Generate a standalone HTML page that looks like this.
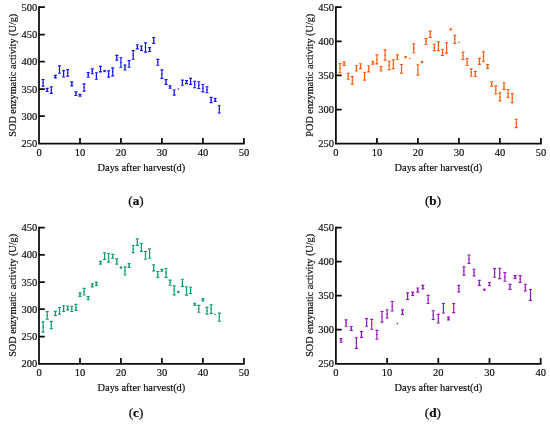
<!DOCTYPE html>
<html><head><meta charset="utf-8"><title>Enzymatic activity</title>
<style>
html,body{margin:0;padding:0;background:#fff;}
svg{display:block;}
text{font-family:"Liberation Serif",serif;fill:#0a0a0a;stroke:#0a0a0a;stroke-width:0.16px;}
.t{font-size:10.5px;}
.l{font-size:10.4px;}
.yl{font-size:10.22px;}
.c{font-size:13.2px;fill:#0a0a0a;stroke:#0a0a0a;stroke-width:0.22px;}
.ax{stroke:#0c0c0c;stroke-width:1.75;fill:none;stroke-linecap:butt;}
.e{stroke-width:1.15;fill:none;}
</style></head><body>
<svg width="550" height="424" viewBox="0 0 550 424">
<rect width="550" height="424" fill="#fff"/>

<g>
<path class="ax" d="M39.0 6.33V143.7H244.72"/>
<text class="t" x="37.2" y="10.9" text-anchor="end">500</text>
<text class="t" x="37.2" y="38.2" text-anchor="end">450</text>
<text class="t" x="37.2" y="65.4" text-anchor="end">400</text>
<text class="t" x="37.2" y="92.7" text-anchor="end">350</text>
<text class="t" x="37.2" y="119.9" text-anchor="end">300</text>
<text class="t" x="37.2" y="147.1" text-anchor="end">250</text>
<text class="t" x="39.0" y="155.7" text-anchor="middle">0</text>
<text class="t" x="80.0" y="155.7" text-anchor="middle">10</text>
<text class="t" x="120.9" y="155.7" text-anchor="middle">20</text>
<text class="t" x="161.9" y="155.7" text-anchor="middle">30</text>
<text class="t" x="202.9" y="155.7" text-anchor="middle">40</text>
<text class="t" x="243.9" y="155.7" text-anchor="middle">50</text>
<path class="ax" d="M39.0 7.2h5.8M39.0 34.5h5.8M39.0 61.7h5.8M39.0 89.0h5.8M39.0 116.2h5.8M80.0 143.7v-5.8M120.9 143.7v-5.8M161.9 143.7v-5.8M202.9 143.7v-5.8M243.9 143.7v-5.8"/>
<text class="l" x="141.4" y="171.4" text-anchor="middle">Days after harvest(d)</text>
<text class="yl" transform="translate(15.5 75.2) rotate(-90)" text-anchor="middle">SOD enzymatic activity (U/g)</text>
<text class="c" x="136.0" y="204.8" text-anchor="middle">(<tspan font-weight="bold">a</tspan>)</text>
<path class="e" stroke="#1212f6" d="M43.1 79.3V86.4M41.6 79.6h3M41.6 86.1h3M47.2 88.0V91.8M45.7 88.3h3M45.7 91.5h3M51.3 86.6V93.7M49.8 86.9h3M49.8 93.4h3M55.4 75.1V78.1M53.9 75.4h3M53.9 77.8h3M59.5 65.5V73.5M58.0 65.8h3M58.0 73.2h3M63.6 70.3V77.3M62.1 70.6h3M62.1 77.0h3M67.7 69.3V76.4M66.2 69.6h3M66.2 76.1h3M71.8 81.6V86.2M70.3 81.9h3M70.3 85.9h3M75.9 91.6V95.8M74.4 91.9h3M74.4 95.5h3M80.0 94.1V96.5M78.5 94.4h3M78.5 96.2h3M84.1 83.5V91.4M82.6 83.8h3M82.6 91.1h3M88.2 72.3V77.5M86.7 72.6h3M86.7 77.2h3M92.3 68.5V74.0M90.8 68.8h3M90.8 73.7h3M96.4 72.4V79.5M94.9 72.7h3M94.9 79.2h3M100.5 66.1V72.1M99.0 66.4h3M99.0 71.8h3M108.6 70.5V77.4M107.1 70.8h3M107.1 77.1h3M112.7 67.5V76.2M111.2 67.8h3M111.2 75.9h3M116.8 55.1V60.4M115.3 55.4h3M115.3 60.1h3M120.9 57.4V67.5M119.4 57.7h3M119.4 67.2h3M125.0 64.8V70.3M123.5 65.1h3M123.5 70.0h3M129.1 60.3V67.5M127.6 60.6h3M127.6 67.2h3M133.2 50.3V59.5M131.7 50.6h3M131.7 59.2h3M137.3 44.4V49.2M135.8 44.7h3M135.8 48.9h3M141.4 45.7V50.6M139.9 46.0h3M139.9 50.3h3M145.5 42.5V52.4M144.0 42.8h3M144.0 52.1h3M149.6 47.3V51.8M148.1 47.6h3M148.1 51.5h3M153.7 37.3V43.6M152.2 37.6h3M152.2 43.3h3M157.8 59.0V65.5M156.3 59.3h3M156.3 65.2h3M161.9 69.5V78.6M160.4 69.8h3M160.4 78.3h3M166.0 79.3V84.7M164.5 79.6h3M164.5 84.4h3M170.1 85.5V88.5M168.6 85.8h3M168.6 88.2h3M174.2 89.7V95.4M172.7 90.0h3M172.7 95.1h3M182.4 79.8V85.5M180.9 80.1h3M180.9 85.2h3M186.5 80.3V83.9M185.0 80.6h3M185.0 83.6h3M190.6 78.1V84.7M189.1 78.4h3M189.1 84.4h3M194.7 80.9V88.0M193.2 81.2h3M193.2 87.7h3M198.8 81.4V88.8M197.3 81.7h3M197.3 88.5h3M202.9 84.2V92.1M201.4 84.5h3M201.4 91.8h3M207.0 86.4V93.0M205.5 86.7h3M205.5 92.7h3M211.1 97.1V102.9M209.6 97.4h3M209.6 102.6h3M215.2 97.9V101.7M213.7 98.2h3M213.7 101.4h3M219.3 105.4V113.3M217.8 105.7h3M217.8 113.0h3"/>
<g fill="#1212f6"><circle cx="43.1" cy="82.8" r="0.75"/><circle cx="47.2" cy="89.9" r="0.75"/><circle cx="51.3" cy="90.2" r="0.75"/><circle cx="55.4" cy="76.6" r="0.75"/><circle cx="59.5" cy="69.5" r="0.75"/><circle cx="63.6" cy="73.8" r="0.75"/><circle cx="67.7" cy="72.8" r="0.75"/><circle cx="71.8" cy="83.9" r="0.75"/><circle cx="75.9" cy="93.7" r="0.75"/><circle cx="80.0" cy="95.3" r="0.75"/><circle cx="84.1" cy="87.5" r="0.75"/><circle cx="88.2" cy="74.9" r="0.75"/><circle cx="92.3" cy="71.2" r="0.75"/><circle cx="96.4" cy="76.0" r="0.75"/><circle cx="100.5" cy="69.1" r="0.75"/><rect x="103.40" y="69.85" width="2.3" height="2.3"/><circle cx="108.6" cy="74.0" r="0.75"/><circle cx="112.7" cy="71.8" r="0.75"/><circle cx="116.8" cy="57.8" r="0.75"/><circle cx="120.9" cy="62.5" r="0.75"/><circle cx="125.0" cy="67.5" r="0.75"/><circle cx="129.1" cy="63.9" r="0.75"/><circle cx="133.2" cy="54.9" r="0.75"/><circle cx="137.3" cy="46.8" r="0.75"/><circle cx="141.4" cy="48.2" r="0.75"/><circle cx="145.5" cy="47.5" r="0.75"/><circle cx="149.6" cy="49.5" r="0.75"/><circle cx="153.7" cy="40.5" r="0.75"/><circle cx="157.8" cy="62.2" r="0.75"/><circle cx="161.9" cy="74.0" r="0.75"/><circle cx="166.0" cy="82.0" r="0.75"/><circle cx="170.1" cy="87.0" r="0.75"/><circle cx="174.2" cy="92.6" r="0.75"/><circle cx="178.3" cy="89.0" r="0.8"/><circle cx="182.4" cy="82.7" r="0.75"/><circle cx="186.5" cy="82.1" r="0.75"/><circle cx="190.6" cy="81.4" r="0.75"/><circle cx="194.7" cy="84.5" r="0.75"/><circle cx="198.8" cy="85.1" r="0.75"/><circle cx="202.9" cy="88.2" r="0.75"/><circle cx="207.0" cy="89.7" r="0.75"/><circle cx="211.1" cy="100.0" r="0.75"/><circle cx="215.2" cy="99.8" r="0.75"/><circle cx="219.3" cy="109.3" r="0.75"/></g>
</g>
<g>
<path class="ax" d="M335.9 6.33V143.7H541.77"/>
<text class="t" x="334.1" y="10.9" text-anchor="end">450</text>
<text class="t" x="334.1" y="45.0" text-anchor="end">400</text>
<text class="t" x="334.1" y="79.1" text-anchor="end">350</text>
<text class="t" x="334.1" y="113.2" text-anchor="end">300</text>
<text class="t" x="334.1" y="147.3" text-anchor="end">250</text>
<text class="t" x="335.9" y="155.7" text-anchor="middle">0</text>
<text class="t" x="376.9" y="155.7" text-anchor="middle">10</text>
<text class="t" x="417.9" y="155.7" text-anchor="middle">20</text>
<text class="t" x="458.9" y="155.7" text-anchor="middle">30</text>
<text class="t" x="499.9" y="155.7" text-anchor="middle">40</text>
<text class="t" x="540.9" y="155.7" text-anchor="middle">50</text>
<path class="ax" d="M335.9 7.2h5.8M335.9 41.3h5.8M335.9 75.4h5.8M335.9 109.5h5.8M376.9 143.7v-5.8M417.9 143.7v-5.8M458.9 143.7v-5.8M499.9 143.7v-5.8M540.9 143.7v-5.8"/>
<text class="l" x="438.4" y="171.4" text-anchor="middle">Days after harvest(d)</text>
<text class="yl" transform="translate(313.3 75.2) rotate(-90)" text-anchor="middle">POD enzymatic activity (U/g)</text>
<text class="c" x="433.0" y="204.8" text-anchor="middle">(<tspan font-weight="bold">b</tspan>)</text>
<path class="e" stroke="#fa5a0c" d="M340.0 63.3V73.0M338.5 63.6h3M338.5 72.7h3M344.1 61.6V65.7M342.6 61.9h3M342.6 65.4h3M348.2 73.0V79.5M346.7 73.3h3M346.7 79.2h3M352.3 76.3V84.4M350.8 76.6h3M350.8 84.1h3M356.4 65.4V71.3M354.9 65.7h3M354.9 71.0h3M360.5 63.4V68.9M359.0 63.7h3M359.0 68.6h3M364.6 72.2V80.4M363.1 72.5h3M363.1 80.1h3M368.7 65.4V72.2M367.2 65.7h3M367.2 71.9h3M372.8 60.9V64.4M371.3 61.2h3M371.3 64.1h3M376.9 54.5V64.2M375.4 54.8h3M375.4 63.9h3M381.0 66.2V71.3M379.5 66.5h3M379.5 71.0h3M385.1 49.5V60.4M383.6 49.8h3M383.6 60.1h3M389.2 60.9V69.9M387.7 61.2h3M387.7 69.6h3M393.3 59.5V68.9M391.8 59.8h3M391.8 68.6h3M397.4 54.6V59.5M395.9 54.9h3M395.9 59.2h3M401.5 64.2V73.4M400.0 64.5h3M400.0 73.1h3M413.8 43.6V53.0M412.3 43.9h3M412.3 52.7h3M417.9 64.4V75.4M416.4 64.7h3M416.4 75.1h3M426.1 38.3V44.8M424.6 38.6h3M424.6 44.5h3M430.2 30.8V37.7M428.7 31.1h3M428.7 37.4h3M434.3 43.9V51.0M432.8 44.2h3M432.8 50.7h3M438.4 41.5V50.9M436.9 41.8h3M436.9 50.6h3M442.5 49.2V55.6M441.0 49.5h3M441.0 55.3h3M446.6 42.6V53.4M445.1 42.9h3M445.1 53.1h3M454.8 35.0V43.6M453.3 35.3h3M453.3 43.3h3M463.0 51.8V59.8M461.5 52.1h3M461.5 59.5h3M467.1 58.3V65.8M465.6 58.6h3M465.6 65.5h3M471.2 68.6V76.5M469.7 68.9h3M469.7 76.2h3M475.3 71.0V76.8M473.8 71.3h3M473.8 76.5h3M479.4 58.0V64.7M477.9 58.3h3M477.9 64.4h3M483.5 51.5V61.5M482.0 51.8h3M482.0 61.2h3M487.6 64.3V68.6M486.1 64.6h3M486.1 68.3h3M491.7 81.4V86.4M490.2 81.7h3M490.2 86.1h3M495.8 85.5V94.3M494.3 85.8h3M494.3 94.0h3M499.9 92.6V101.2M498.4 92.9h3M498.4 100.9h3M504.0 82.6V89.7M502.5 82.9h3M502.5 89.4h3M508.1 89.2V97.6M506.6 89.5h3M506.6 97.3h3M512.2 93.3V102.9M510.7 93.6h3M510.7 102.6h3M516.3 118.9V127.9M514.8 119.2h3M514.8 127.6h3"/>
<g fill="#fa5a0c"><circle cx="340.0" cy="68.2" r="0.75"/><circle cx="344.1" cy="63.7" r="0.75"/><circle cx="348.2" cy="76.2" r="0.75"/><circle cx="352.3" cy="80.3" r="0.75"/><circle cx="356.4" cy="68.3" r="0.75"/><circle cx="360.5" cy="66.2" r="0.75"/><circle cx="364.6" cy="76.3" r="0.75"/><circle cx="368.7" cy="68.8" r="0.75"/><circle cx="372.8" cy="62.7" r="0.75"/><circle cx="376.9" cy="59.4" r="0.75"/><circle cx="381.0" cy="68.8" r="0.75"/><circle cx="385.1" cy="55.0" r="0.75"/><circle cx="389.2" cy="65.4" r="0.75"/><circle cx="393.3" cy="64.2" r="0.75"/><circle cx="397.4" cy="57.0" r="0.75"/><circle cx="401.5" cy="68.8" r="0.75"/><rect x="404.45" y="56.00" width="2.3" height="2.3"/><circle cx="409.7" cy="58.6" r="0.8"/><circle cx="413.8" cy="48.3" r="0.75"/><circle cx="417.9" cy="69.9" r="0.75"/><rect x="420.85" y="60.95" width="2.3" height="2.3"/><circle cx="426.1" cy="41.5" r="0.75"/><circle cx="430.2" cy="34.2" r="0.75"/><circle cx="434.3" cy="47.5" r="0.75"/><circle cx="438.4" cy="46.2" r="0.75"/><circle cx="442.5" cy="52.4" r="0.75"/><circle cx="446.6" cy="48.0" r="0.75"/><rect x="449.55" y="28.20" width="2.3" height="2.3"/><circle cx="454.8" cy="39.3" r="0.75"/><circle cx="458.9" cy="42.4" r="0.8"/><circle cx="463.0" cy="55.8" r="0.75"/><circle cx="467.1" cy="62.0" r="0.75"/><circle cx="471.2" cy="72.5" r="0.75"/><circle cx="475.3" cy="73.9" r="0.75"/><circle cx="479.4" cy="61.4" r="0.75"/><circle cx="483.5" cy="56.5" r="0.75"/><circle cx="487.6" cy="66.4" r="0.75"/><circle cx="491.7" cy="83.9" r="0.75"/><circle cx="495.8" cy="89.9" r="0.75"/><circle cx="499.9" cy="96.9" r="0.75"/><circle cx="504.0" cy="86.2" r="0.75"/><circle cx="508.1" cy="93.4" r="0.75"/><circle cx="512.2" cy="98.1" r="0.75"/><circle cx="516.3" cy="123.4" r="0.75"/></g>
</g>
<g>
<path class="ax" d="M39.0 226.63V363.8H244.72"/>
<text class="t" x="37.2" y="231.2" text-anchor="end">450</text>
<text class="t" x="37.2" y="258.4" text-anchor="end">400</text>
<text class="t" x="37.2" y="285.7" text-anchor="end">350</text>
<text class="t" x="37.2" y="312.9" text-anchor="end">300</text>
<text class="t" x="37.2" y="340.2" text-anchor="end">250</text>
<text class="t" x="37.2" y="367.4" text-anchor="end">200</text>
<text class="t" x="39.0" y="375.8" text-anchor="middle">0</text>
<text class="t" x="80.0" y="375.8" text-anchor="middle">10</text>
<text class="t" x="120.9" y="375.8" text-anchor="middle">20</text>
<text class="t" x="161.9" y="375.8" text-anchor="middle">30</text>
<text class="t" x="202.9" y="375.8" text-anchor="middle">40</text>
<text class="t" x="243.9" y="375.8" text-anchor="middle">50</text>
<path class="ax" d="M39.0 227.5h5.8M39.0 254.8h5.8M39.0 282.0h5.8M39.0 309.2h5.8M39.0 336.5h5.8M80.0 363.8v-5.8M120.9 363.8v-5.8M161.9 363.8v-5.8M202.9 363.8v-5.8M243.9 363.8v-5.8"/>
<text class="l" x="141.4" y="391.4" text-anchor="middle">Days after harvest(d)</text>
<text class="yl" transform="translate(15.5 295.4) rotate(-90)" text-anchor="middle">SOD enzymatic activity (U/g)</text>
<text class="c" x="136.0" y="417.2" text-anchor="middle">(<tspan font-weight="bold">c</tspan>)</text>
<path class="e" stroke="#0c9c66" d="M43.1 321.5V332.4M41.6 321.8h3M41.6 332.1h3M47.2 311.3V319.4M45.7 311.6h3M45.7 319.1h3M51.3 321.3V328.9M49.8 321.6h3M49.8 328.6h3M55.4 311.0V315.7M53.9 311.3h3M53.9 315.4h3M59.5 307.2V314.5M58.0 307.5h3M58.0 314.2h3M63.6 305.4V311.6M62.1 305.7h3M62.1 311.3h3M67.7 305.7V310.1M66.2 306.0h3M66.2 309.8h3M71.8 305.9V311.8M70.3 306.2h3M70.3 311.5h3M75.9 304.1V310.6M74.4 304.4h3M74.4 310.3h3M80.0 292.5V296.6M78.5 292.8h3M78.5 296.3h3M84.1 288.0V295.3M82.6 288.3h3M82.6 295.0h3M88.2 296.2V300.0M86.7 296.5h3M86.7 299.7h3M92.3 283.6V287.1M90.8 283.9h3M90.8 286.8h3M96.4 281.8V285.6M94.9 282.1h3M94.9 285.3h3M100.5 260.9V264.4M99.0 261.2h3M99.0 264.1h3M104.6 252.6V259.7M103.1 252.9h3M103.1 259.4h3M108.6 253.2V262.4M107.1 253.5h3M107.1 262.1h3M112.7 254.1V258.5M111.2 254.4h3M111.2 258.2h3M116.8 258.5V264.4M115.3 258.8h3M115.3 264.1h3M125.0 266.6V275.3M123.5 266.9h3M123.5 275.0h3M129.1 263.3V267.6M127.6 263.6h3M127.6 267.3h3M133.2 245.2V252.9M131.7 245.5h3M131.7 252.6h3M137.3 238.5V245.6M135.8 238.8h3M135.8 245.3h3M141.4 243.2V251.7M139.9 243.5h3M139.9 251.4h3M145.5 251.2V259.5M144.0 251.5h3M144.0 259.2h3M149.6 248.5V258.5M148.1 248.8h3M148.1 258.2h3M153.7 264.5V271.2M152.2 264.8h3M152.2 270.9h3M157.8 271.2V277.6M156.3 271.5h3M156.3 277.3h3M161.9 269.0V271.5M160.4 269.3h3M160.4 271.2h3M166.0 268.2V277.6M164.5 268.5h3M164.5 277.3h3M170.1 279.8V285.5M168.6 280.1h3M168.6 285.2h3M174.2 285.5V295.1M172.7 285.8h3M172.7 294.8h3M182.4 278.9V286.7M180.9 279.2h3M180.9 286.4h3M186.5 286.4V295.4M185.0 286.7h3M185.0 295.1h3M190.6 286.9V293.8M189.1 287.2h3M189.1 293.5h3M194.7 302.9V305.4M193.2 303.2h3M193.2 305.1h3M198.8 305.0V312.5M197.3 305.3h3M197.3 312.2h3M202.9 298.3V301.2M201.4 298.6h3M201.4 300.9h3M207.0 307.0V314.4M205.5 307.3h3M205.5 314.1h3M211.1 304.5V313.6M209.6 304.8h3M209.6 313.3h3M219.3 312.8V321.5M217.8 313.1h3M217.8 321.2h3"/>
<g fill="#0c9c66"><circle cx="43.1" cy="326.9" r="0.75"/><circle cx="47.2" cy="315.4" r="0.75"/><circle cx="51.3" cy="325.1" r="0.75"/><circle cx="55.4" cy="313.4" r="0.75"/><circle cx="59.5" cy="310.9" r="0.75"/><circle cx="63.6" cy="308.5" r="0.75"/><circle cx="67.7" cy="307.9" r="0.75"/><circle cx="71.8" cy="308.9" r="0.75"/><circle cx="75.9" cy="307.4" r="0.75"/><circle cx="80.0" cy="294.6" r="0.75"/><circle cx="84.1" cy="291.6" r="0.75"/><circle cx="88.2" cy="298.1" r="0.75"/><circle cx="92.3" cy="285.4" r="0.75"/><circle cx="96.4" cy="283.7" r="0.75"/><circle cx="100.5" cy="262.6" r="0.75"/><circle cx="104.6" cy="256.1" r="0.75"/><circle cx="108.6" cy="257.8" r="0.75"/><circle cx="112.7" cy="256.3" r="0.75"/><circle cx="116.8" cy="261.4" r="0.75"/><rect x="119.79" y="266.45" width="2.3" height="2.3"/><circle cx="125.0" cy="271.0" r="0.75"/><circle cx="129.1" cy="265.5" r="0.75"/><circle cx="133.2" cy="249.1" r="0.75"/><circle cx="137.3" cy="242.1" r="0.75"/><circle cx="141.4" cy="247.4" r="0.75"/><circle cx="145.5" cy="255.3" r="0.75"/><circle cx="149.6" cy="253.5" r="0.75"/><circle cx="153.7" cy="267.9" r="0.75"/><circle cx="157.8" cy="274.4" r="0.75"/><circle cx="161.9" cy="270.2" r="0.75"/><circle cx="166.0" cy="272.9" r="0.75"/><circle cx="170.1" cy="282.6" r="0.75"/><circle cx="174.2" cy="290.3" r="0.75"/><rect x="177.15" y="290.75" width="2.3" height="2.3"/><circle cx="182.4" cy="282.8" r="0.75"/><circle cx="186.5" cy="290.9" r="0.75"/><circle cx="190.6" cy="290.4" r="0.75"/><circle cx="194.7" cy="304.1" r="0.75"/><circle cx="198.8" cy="308.8" r="0.75"/><circle cx="202.9" cy="299.8" r="0.75"/><circle cx="207.0" cy="310.7" r="0.75"/><circle cx="211.1" cy="309.1" r="0.75"/><circle cx="215.2" cy="314.2" r="0.8"/><circle cx="219.3" cy="317.1" r="0.75"/></g>
</g>
<g>
<path class="ax" d="M335.9 226.63V363.8H541.57"/>
<text class="t" x="334.1" y="231.2" text-anchor="end">450</text>
<text class="t" x="334.1" y="265.2" text-anchor="end">400</text>
<text class="t" x="334.1" y="299.3" text-anchor="end">350</text>
<text class="t" x="334.1" y="333.3" text-anchor="end">300</text>
<text class="t" x="334.1" y="367.4" text-anchor="end">250</text>
<text class="t" x="335.9" y="375.8" text-anchor="middle">0</text>
<text class="t" x="387.1" y="375.8" text-anchor="middle">10</text>
<text class="t" x="438.3" y="375.8" text-anchor="middle">20</text>
<text class="t" x="489.5" y="375.8" text-anchor="middle">30</text>
<text class="t" x="540.7" y="375.8" text-anchor="middle">40</text>
<path class="ax" d="M335.9 227.5h5.8M335.9 261.6h5.8M335.9 295.6h5.8M335.9 329.6h5.8M387.1 363.8v-5.8M438.3 363.8v-5.8M489.5 363.8v-5.8M540.7 363.8v-5.8"/>
<text class="l" x="438.3" y="391.4" text-anchor="middle">Days after harvest(d)</text>
<text class="yl" transform="translate(313.3 295.4) rotate(-90)" text-anchor="middle">SOD enzymatic activity (U/g)</text>
<text class="c" x="432.9" y="417.2" text-anchor="middle">(<tspan font-weight="bold">d</tspan>)</text>
<path class="e" stroke="#9414c2" d="M341.0 338.3V342.5M339.5 338.6h3M339.5 342.2h3M346.1 319.5V326.5M344.6 319.8h3M344.6 326.2h3M351.3 326.2V330.7M349.8 326.5h3M349.8 330.4h3M356.4 337.4V348.6M354.9 337.7h3M354.9 348.3h3M361.5 331.3V337.7M360.0 331.6h3M360.0 337.4h3M366.6 318.3V326.5M365.1 318.6h3M365.1 326.2h3M371.7 319.1V329.5M370.2 319.4h3M370.2 329.2h3M376.9 330.1V339.5M375.4 330.4h3M375.4 339.2h3M382.0 311.2V322.4M380.5 311.5h3M380.5 322.1h3M387.1 309.4V318.3M385.6 309.7h3M385.6 318.0h3M392.2 301.2V311.3M390.7 301.5h3M390.7 311.0h3M402.5 309.5V314.6M401.0 309.8h3M401.0 314.3h3M407.6 292.6V299.7M406.1 292.9h3M406.1 299.4h3M412.7 291.8V295.7M411.2 292.1h3M411.2 295.4h3M417.8 287.7V292.4M416.3 288.0h3M416.3 292.1h3M422.9 285.1V289.1M421.4 285.4h3M421.4 288.8h3M428.1 295.1V303.8M426.6 295.4h3M426.6 303.5h3M433.2 310.4V319.7M431.7 310.7h3M431.7 319.4h3M438.3 314.0V323.3M436.8 314.3h3M436.8 323.0h3M443.4 303.2V313.3M441.9 303.5h3M441.9 313.0h3M448.5 316.8V320.1M447.0 317.1h3M447.0 319.8h3M453.7 303.3V312.9M452.2 303.6h3M452.2 312.6h3M458.8 285.1V292.2M457.3 285.4h3M457.3 291.9h3M463.9 266.5V275.4M462.4 266.8h3M462.4 275.1h3M469.0 254.7V263.6M467.5 255.0h3M467.5 263.3h3M474.1 268.9V276.2M472.6 269.2h3M472.6 275.9h3M479.3 280.1V285.6M477.8 280.4h3M477.8 285.3h3M489.5 282.2V286.0M488.0 282.5h3M488.0 285.7h3M494.6 268.3V277.5M493.1 268.6h3M493.1 277.2h3M499.7 267.9V278.9M498.2 268.2h3M498.2 278.6h3M504.9 272.3V281.5M503.4 272.6h3M503.4 281.2h3M510.0 284.1V289.6M508.5 284.4h3M508.5 289.3h3M515.1 275.3V278.6M513.6 275.6h3M513.6 278.3h3M520.2 275.3V282.7M518.7 275.6h3M518.7 282.4h3M525.3 283.9V291.2M523.8 284.2h3M523.8 290.9h3M530.5 289.2V300.6M529.0 289.5h3M529.0 300.3h3"/>
<g fill="#9414c2"><circle cx="341.0" cy="340.4" r="0.75"/><circle cx="346.1" cy="323.0" r="0.75"/><circle cx="351.3" cy="328.4" r="0.75"/><circle cx="356.4" cy="343.0" r="0.75"/><circle cx="361.5" cy="334.5" r="0.75"/><circle cx="366.6" cy="322.4" r="0.75"/><circle cx="371.7" cy="324.3" r="0.75"/><circle cx="376.9" cy="334.8" r="0.75"/><circle cx="382.0" cy="316.8" r="0.75"/><circle cx="387.1" cy="313.9" r="0.75"/><circle cx="392.2" cy="306.2" r="0.75"/><circle cx="397.3" cy="323.6" r="0.8"/><circle cx="402.5" cy="312.1" r="0.75"/><circle cx="407.6" cy="296.1" r="0.75"/><circle cx="412.7" cy="293.8" r="0.75"/><circle cx="417.8" cy="290.0" r="0.75"/><circle cx="422.9" cy="287.1" r="0.75"/><circle cx="428.1" cy="299.5" r="0.75"/><circle cx="433.2" cy="315.0" r="0.75"/><circle cx="438.3" cy="318.6" r="0.75"/><circle cx="443.4" cy="308.2" r="0.75"/><circle cx="448.5" cy="318.5" r="0.75"/><circle cx="453.7" cy="308.1" r="0.75"/><circle cx="458.8" cy="288.6" r="0.75"/><circle cx="463.9" cy="270.9" r="0.75"/><circle cx="469.0" cy="259.1" r="0.75"/><circle cx="474.1" cy="272.5" r="0.75"/><circle cx="479.3" cy="282.9" r="0.75"/><rect x="483.23" y="288.55" width="2.3" height="2.3"/><circle cx="489.5" cy="284.1" r="0.75"/><circle cx="494.6" cy="272.9" r="0.75"/><circle cx="499.7" cy="273.4" r="0.75"/><circle cx="504.9" cy="276.9" r="0.75"/><circle cx="510.0" cy="286.9" r="0.75"/><circle cx="515.1" cy="277.0" r="0.75"/><circle cx="520.2" cy="279.0" r="0.75"/><circle cx="525.3" cy="287.5" r="0.75"/><circle cx="530.5" cy="294.9" r="0.75"/></g>
</g>
</svg></body></html>
